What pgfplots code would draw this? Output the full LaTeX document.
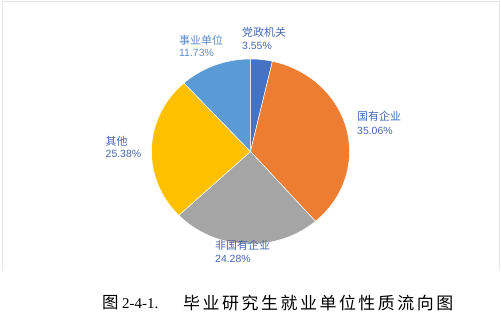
\documentclass[border=0pt]{standalone}
\usepackage{fontspec}
\usepackage{pgfplots}
\pgfplotsset{compat=1.18}
\setmainfont{Liberation Serif}
\newfontfamily\cjk{Noto Sans CJK SC}
\newfontfamily\pct{Liberation Sans}
\newfontfamily\cjkcap[LetterSpace=15]{Noto Sans CJK SC}
\definecolor{cA}{HTML}{4472C4}
\definecolor{cB}{HTML}{ED7D31}
\definecolor{cC}{HTML}{A5A5A5}
\definecolor{cD}{HTML}{FFC000}
\definecolor{cE}{HTML}{5B9BD5}
\definecolor{lab}{HTML}{4467B0}
\definecolor{labL}{HTML}{5A8CCB}
% slice: #1 = cumulative start (%), #2 = share (%), #3 = colour
\newcommand\slice[3]{%
  \pgfmathsetmacro\sa{90-3.6*#1}%
  \pgfmathsetmacro\sb{90-3.6*(#1+#2)}%
  \addplot[fill=#3, draw=white, line width=0.5pt, domain=\sb:\sa, samples=80, variable=\t]
    ({250.5+99*cos(t)},{151.5-92.5*sin(t)}) -- (axis cs:250.5,151.5) -- cycle;
}
\begin{document}
\begin{tikzpicture}
\begin{axis}[
  scale only axis, width=501bp, height=313bp,
  xmin=0, xmax=501, ymin=0, ymax=313, y dir=reverse,
  hide axis, clip=false]
\path (axis cs:0,0) rectangle (axis cs:501,313);
\draw[black!10, line width=1pt] (axis cs:2,270) -- (axis cs:2,1.5) -- (axis cs:499,1.5) -- (axis cs:499,270);
\slice{0}{3.55}{cA}
\slice{3.55}{35.06}{cB}
\slice{38.61}{24.28}{cC}
\slice{62.89}{25.38}{cD}
\slice{88.27}{11.73}{cE}
\begin{scope}[every node/.style={anchor=west, inner sep=0pt, font=\cjk\fontsize{11}{12}\selectfont}]
\node[text=labL] at (axis cs:179,40.7) {事业单位};
\node[text=labL, font=\pct\fontsize{10.5}{12}\selectfont] at (axis cs:179,53.3) {11.73\%};
\node[text=lab] at (axis cs:242,32.7) {党政机关};
\node[text=lab, font=\pct\fontsize{10.5}{12}\selectfont] at (axis cs:242,46) {3.55\%};
\node[text=lab] at (axis cs:357,116.7) {国有企业};
\node[text=lab, font=\pct\fontsize{10.5}{12}\selectfont] at (axis cs:357,131) {35.06\%};
\node[text=lab] at (axis cs:105.5,141.7) {其他};
\node[text=lab, font=\pct\fontsize{10.5}{12}\selectfont] at (axis cs:105.5,154.3) {25.38\%};
\node[text=lab] at (axis cs:215,245.7) {非国有企业};
\node[text=lab, font=\pct\fontsize{10.5}{12}\selectfont] at (axis cs:215,259.3) {24.28\%};
\end{scope}
\node[anchor=west, inner sep=0pt, font=\cjk\fontsize{16.5}{18}\selectfont] at (axis cs:102,303) {图};
\node[anchor=west, inner sep=0pt, font=\fontsize{15}{17}\selectfont] at (axis cs:122,303.5) {2-4-1.};
\node[anchor=west, inner sep=0pt, font=\cjkcap\fontsize{17}{19}\selectfont] at (axis cs:183,303) {毕业研究生就业单位性质流向图};
\end{axis}
\end{tikzpicture}
\end{document}
